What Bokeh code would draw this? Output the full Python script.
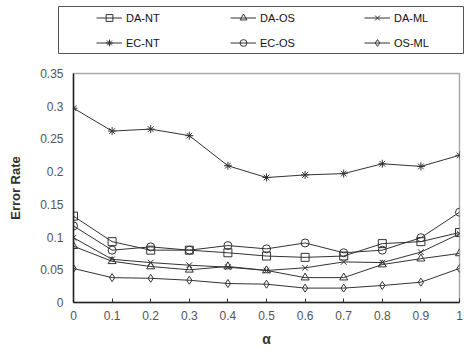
from bokeh.plotting import figure
from bokeh.models import Legend, LegendItem, FixedTicker
from bokeh.layouts import column
from bokeh.embed import file_html
from bokeh.resources import INLINE

alpha = [0.0, 0.1, 0.2, 0.3, 0.4, 0.5, 0.6, 0.7, 0.8, 0.9, 1.0]
da_nt = [0.132, 0.093, 0.080, 0.080, 0.076, 0.071, 0.069, 0.071, 0.090, 0.093, 0.107]
da_os = [0.086, 0.063, 0.055, 0.050, 0.055, 0.049, 0.038, 0.038, 0.058, 0.067, 0.075]
da_ml = [0.099, 0.066, 0.061, 0.057, 0.054, 0.049, 0.053, 0.062, 0.061, 0.077, 0.105]
ec_nt = [0.297, 0.262, 0.265, 0.255, 0.209, 0.191, 0.195, 0.197, 0.212, 0.208, 0.225]
ec_os = [0.117, 0.080, 0.085, 0.080, 0.087, 0.082, 0.091, 0.076, 0.080, 0.099, 0.138]
os_ml = [0.052, 0.038, 0.037, 0.034, 0.029, 0.028, 0.022, 0.022, 0.026, 0.031, 0.052]

series = [
    ("DA-NT", da_nt, "square"),
    ("DA-OS", da_os, "triangle"),
    ("DA-ML", da_ml, "x"),
    ("EC-NT", ec_nt, "asterisk"),
    ("EC-OS", ec_os, "circle"),
    ("OS-ML", os_ml, "diamond"),
]
# legend fills column by column: reorder so it reads row by row
legend_order = ["DA-NT", "EC-NT", "DA-OS", "EC-OS", "DA-ML", "OS-ML"]

x_ticks = [0, 0.1, 0.2, 0.3, 0.4, 0.5, 0.6, 0.7, 0.8, 0.9, 1]
x_labels = ["0", "0.1", "0.2", "0.3", "0.4", "0.5", "0.6", "0.7", "0.8", "0.9", "1"]
y_ticks = [0, 0.05, 0.1, 0.15, 0.2, 0.25, 0.3, 0.35]
y_labels = ["0", "0.05", "0.1", "0.15", "0.2", "0.25", "0.3", "0.35"]

FONT = "Liberation Sans"
LINE = "#333333"

# --- main chart ---
p = figure(width=470, height=294, x_range=(0, 1), y_range=(0, 0.35),
           output_backend="svg", toolbar_location=None,
           min_border_left=73, min_border_right=11, min_border_top=18, min_border_bottom=47)
p.xgrid.visible = False
p.ygrid.visible = False
p.outline_line_color = "#aaaaaa"
p.outline_line_width = 1.5

for name, vals, mk in series:
    p.line(alpha, vals, line_color=LINE, line_width=1)
    p.scatter(alpha, vals, marker=mk, size=8, line_color=LINE,
              fill_color=None, line_width=1)

for ax in (p.xaxis[0], p.yaxis[0]):
    ax.axis_line_color = "#222222"
    ax.axis_line_width = 1.5
    ax.major_label_text_font = FONT
    ax.major_label_text_font_size = "12px"
    ax.major_label_text_color = "#555555"
    ax.minor_tick_line_color = None
    ax.axis_label_text_font = FONT
    ax.axis_label_text_font_style = "bold"
    ax.axis_label_text_color = "#333333"

p.xaxis.ticker = FixedTicker(ticks=x_ticks)
p.xaxis.major_label_overrides = {t: l for t, l in zip(x_ticks, x_labels)}
p.xaxis.major_tick_in = 4
p.xaxis.major_tick_out = 0
p.xaxis.major_tick_line_color = LINE
p.xaxis.major_label_standoff = 8
p.xaxis.axis_label = "α"
p.xaxis.axis_label_text_font_size = "14px"
p.xaxis.axis_label_standoff = 8

p.yaxis.ticker = FixedTicker(ticks=y_ticks)
p.yaxis.major_label_overrides = {t: l for t, l in zip(y_ticks, y_labels)}
p.yaxis.major_tick_in = 0
p.yaxis.major_tick_out = 0
p.yaxis.major_label_standoff = 10
p.yaxis.axis_label = "Error Rate"
p.yaxis.axis_label_text_font_size = "13px"
p.yaxis.axis_label_standoff = 14

# --- legend box (separate small figure whose frame is the legend border) ---
# its x_range is away from the data, so the series drawn here stay hidden
lg = figure(width=470, height=55, x_range=(5, 6), y_range=(5, 6),
            output_backend="svg", toolbar_location=None,
            min_border_left=58, min_border_right=7, min_border_top=6, min_border_bottom=2)
lg.axis.visible = False
lg.xgrid.visible = False
lg.ygrid.visible = False
lg.outline_line_color = "#555555"
lg.outline_line_width = 1

rend = {}
for name, vals, mk in series:
    lr = lg.line(alpha, vals, line_color=LINE, line_width=1)
    sr = lg.scatter(alpha, vals, marker=mk, size=7, line_color=LINE,
                    fill_color=None, line_width=1)
    rend[name] = [lr, sr]
items = [LegendItem(label=n, renderers=rend[n]) for n in legend_order]

legend = Legend(items=items, ncols=3, location=(38, 2),
                border_line_color=None, background_fill_alpha=0,
                padding=0, margin=0, spacing=8,
                glyph_width=26, glyph_height=17, label_height=17,
                label_width=96, label_standoff=4,
                label_text_font=FONT, label_text_font_size="11px",
                label_text_color="#111111")
lg.add_layout(legend, "center")

layout = column(column(lg), p, spacing=0)
open("out.html", "w").write(file_html(layout, INLINE))
